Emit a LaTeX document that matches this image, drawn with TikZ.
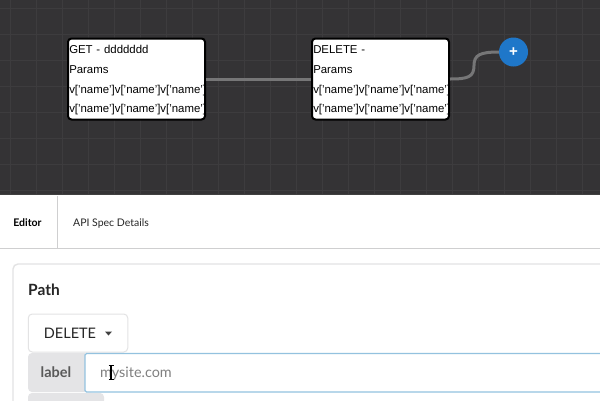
\documentclass[tikz,border=0pt]{standalone}
\usepackage{fontspec}
\setmainfont{Liberation Sans}
\newfontfamily\uifont{Lato}
\definecolor{canvasbg}{HTML}{343335}
\definecolor{gridln}{HTML}{3D3C3E}
\definecolor{wirecol}{HTML}{767677}
\definecolor{addblue}{HTML}{1F77C9}
\definecolor{tabln}{HTML}{CFCFD0}
\definecolor{cardln}{HTML}{E3E3E4}
\definecolor{addonbg}{HTML}{E4E4E6}
\definecolor{inputln}{HTML}{93C2DF}
\tikzset{
  callbox/.style={draw=black, line width=2pt, fill=white, rounded corners=3.5pt, minimum width=137pt, minimum height=81pt, inner sep=0pt, text width=134.5pt, align=left, font=\fontsize{11.4}{19.6}\selectfont},
  wire/.style={draw=wirecol, line width=3pt},
  uitext/.style={inner sep=0pt, text=black},
}
\begin{document}
\begin{tikzpicture}[x=1pt,y=-1pt]
\useasboundingbox (0,0) rectangle (600,400);
\clip (0,0) rectangle (600,400);
\fill[white] (0,0) rectangle (600,400);
% canvas
\fill[canvasbg] (0,0) rectangle (600,195);
\foreach \gx in {10,36,...,600} \draw[gridln, line width=1pt] (\gx,0) -- (\gx,194);
\foreach \gy in {8,34,...,190} \draw[gridln, line width=1pt] (0,\gy) -- (600,\gy);
\draw[black!75, line width=1pt] (0,194.5) -- (600,194.5);
% calls
\coordinate (bend0) at (474,65.5);
\node[callbox] (get0) at (136.5,79) {\rule{0pt}{11pt}GET - ddddddd\\Params\\v['name']v['name']v['name']\\v['name']v['name']v['name']};
\node[callbox] (del0) at (380.5,79) {\rule{0pt}{11pt}DELETE -\\Params\\v['name']v['name']v['name']\\v['name']v['name']v['name']};
\node[circle, fill=addblue, minimum size=29pt, inner sep=0pt, text=white, font=\bfseries\fontsize{15}{15}\selectfont] (addbtn) at (513.5,52) {+};
\draw[wire] (get0) -- (del0);
\draw[wire] (del0.east) .. controls (468,79) and (474,77) .. (bend0) .. controls (474,55) and (480,52) .. (addbtn.west);
% tabs
\draw[tabln, line width=1pt] (0,248) -- (600,248);
\draw[tabln, line width=1pt] (57,196) -- (57,248);
\node[uitext, font=\uifont\bfseries\fontsize{10.5}{12}\selectfont] (tabeditor) at (27.5,222.5) {Editor};
\node[uitext, font=\uifont\fontsize{10.5}{12}\selectfont, text=black!85] (tabspec) at (111,223.5) {API Spec Details};
% card
\draw[cardln, line width=1.4pt, rounded corners=5pt] (13,420) -- (13,264) -- (620,264);
\node[uitext, font=\uifont\bfseries\fontsize{15.5}{18}\selectfont, text=black!85] (pathlbl) at (44,290) {Path};
\node[draw=cardln, line width=1pt, rounded corners=4pt, minimum width=99.5pt, minimum height=38pt, inner sep=0pt] (method) at (78,333) {};
\node[uitext, font=\uifont\fontsize{14.5}{16}\selectfont, text=black!85] (methodlbl) at (70,333.5) {DELETE};
\fill[black!75] (105,331.5) -- (112,331.5) -- (108.5,335.5) -- cycle;
% input row
\fill[addonbg, rounded corners=4pt] (28,353) rectangle (95,392);
\fill[addonbg] (60,353) rectangle (85,392);
\node[uitext, font=\uifont\bfseries\fontsize{14.5}{16}\selectfont, text=black!65] (labeltag) at (56,372) {label};
\fill[white] (85,353) rectangle (620,392);
\draw[inputln, line width=1.3pt, rounded corners=1.5pt] (620,353.5) -- (85,353.5) -- (85,392) -- (620,392);
\node[uitext, anchor=west, font=\uifont\fontsize{14.4}{16}\selectfont, text=black!50] (hinttxt) at (100,373.5) {mysite.com};
\draw[black, line width=1.1pt] (111,366) -- (111,379) (108.5,365.5) -- (113.5,365.5) (108.5,379.5) -- (113.5,379.5);
\fill[addonbg, rounded corners=4pt] (28,393) rectangle (104,420);
\end{tikzpicture}
\end{document}
